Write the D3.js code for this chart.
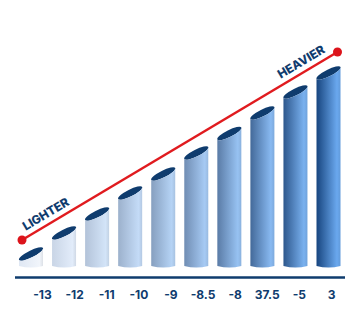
<!DOCTYPE html>
<html>
<head>
<meta charset="utf-8">
<script src="https://cdn.jsdelivr.net/npm/d3@7"></script>
<style>
  html, body { margin: 0; padding: 0; background: #fff; }
  svg { display: block; }
  .tick text { font-family: Inter, "Open Sans", sans-serif; font-weight: 700; }
</style>
</head>
<body>
<svg id="chart" width="360" height="335"></svg>
<script>
// category labels under the bars
const categories = ["-13", "-12", "-11", "-10", "-9", "-8.5", "-8", "37.5", "-5", "3"];
// bar heights (unitless)
const barValues = [13, 34, 53, 74, 93, 114, 133.5, 154, 175, 194];
// trend line from lighter to heavier (same units as bars)
const trendValues = [27, 215];
const trendLabels = ["LIGHTER", "HEAVIER"];

const svg = d3.select("#chart");
const navy = "#0f3c6e";

const x = d3.scaleBand()
  .domain(categories)
  .range([19, 340.5])
  .paddingInner(0.274)
  .paddingOuter(0);

const y = d3.scaleLinear()
  .domain([0, 200])
  .range([267, 67]);

// labels sit slightly offset from the bars
const xLabel = d3.scalePoint()
  .domain(categories)
  .range([42, 331]);

const leftColor = d3.scaleLinear().domain([0, categories.length - 1])
  .range(["#dfe7f3", "#17457f"]).interpolate(d3.interpolateRgb);
const rightColor = d3.scaleLinear().domain([0, categories.length - 1])
  .range(["#f1f5fb", "#6aa8ee"]).interpolate(d3.interpolateRgb);

const defs = svg.append("defs");
categories.forEach((c, i) => {
  const g = defs.append("linearGradient")
    .attr("id", "bar" + i)
    .attr("x1", "0%").attr("x2", "100%").attr("y1", "0%").attr("y2", "0%");
  g.append("stop").attr("offset", "0%").attr("stop-color", leftColor(i));
  g.append("stop").attr("offset", "85%").attr("stop-color", rightColor(i));
  g.append("stop").attr("offset", "100%").attr("stop-color", d3.color(rightColor(i)).darker(0.25));
});

// baseline
svg.append("line")
  .attr("x1", 15).attr("x2", 345)
  .attr("y1", 277.5).attr("y2", 277.5)
  .attr("stroke", navy)
  .attr("stroke-width", 2.5);

const w = x.bandwidth();
const rise = 6;                       // half of the slant of the top
const ra = Math.sqrt((w / 2) * (w / 2) + rise * rise);
const rb = 3.4;
const tilt = -Math.atan2(rise, w / 2) * 180 / Math.PI;
const base = y(0);

const bars = svg.append("g").selectAll("g")
  .data(barValues)
  .join("g");

// dark top of each cylinder
bars.append("ellipse")
  .attr("cx", 0).attr("cy", 0)
  .attr("rx", ra).attr("ry", rb)
  .attr("fill", navy)
  .attr("transform", (d, i) => `translate(${x(categories[i]) + w / 2},${y(d)}) rotate(${tilt})`);

// body of each cylinder
bars.append("path")
  .attr("fill", (d, i) => `url(#bar${i})`)
  .attr("d", (d, i) => {
    const x0 = x(categories[i]);
    const x1 = x0 + w;
    const cy = y(d);
    return `M${x0},${cy + rise}` +
      `L${x0},${base - 1}` +
      `Q${x0 + w / 2},${base + 2} ${x1},${base - 1}` +
      `L${x1},${cy - rise}` +
      `A${ra},${rb} ${tilt} 0 1 ${x0},${cy + rise}Z`;
  });

// trend line
const tx0 = x.range()[0] + 3;
const tx1 = x.range()[1] - 3;
const ty0 = y(trendValues[0]);
const ty1 = y(trendValues[1]);
const angle = Math.atan2(ty1 - ty0, tx1 - tx0) * 180 / Math.PI;

svg.append("line")
  .attr("x1", tx0).attr("y1", ty0)
  .attr("x2", tx1).attr("y2", ty1)
  .attr("stroke", "#e01b1f")
  .attr("stroke-width", 2.5);

svg.selectAll("circle.end")
  .data([[tx0, ty0], [tx1, ty1]])
  .join("circle")
  .attr("class", "end")
  .attr("cx", d => d[0]).attr("cy", d => d[1])
  .attr("r", 4.5)
  .attr("fill", "#dc141b");

// LIGHTER / HEAVIER along the line
const len = Math.hypot(tx1 - tx0, ty1 - ty0);
const ux = (tx1 - tx0) / len, uy = (ty1 - ty0) / len;
[[8, "start"], [len - 10, "end"]].forEach((p, i) => {
  const px = tx0 + ux * p[0];
  const py = ty0 + uy * p[0];
  svg.append("text")
    .attr("transform", `translate(${px},${py}) rotate(${angle}) translate(0,-6)`)
    .attr("text-anchor", p[1])
    .attr("font-family", "Inter, 'Open Sans', sans-serif")
    .attr("font-weight", 800)
    .attr("font-size", 12)
    .attr("fill", navy)
    .text(trendLabels[i]);
});

// category axis
const axis = svg.append("g")
  .attr("transform", "translate(0,290)")
  .call(d3.axisBottom(xLabel).tickSize(0).tickPadding(0));
axis.select(".domain").remove();
axis.selectAll("text")
  .attr("font-size", 12)
  .attr("fill", navy)
  .attr("dy", "0.71em");
</script>
</body>
</html>
